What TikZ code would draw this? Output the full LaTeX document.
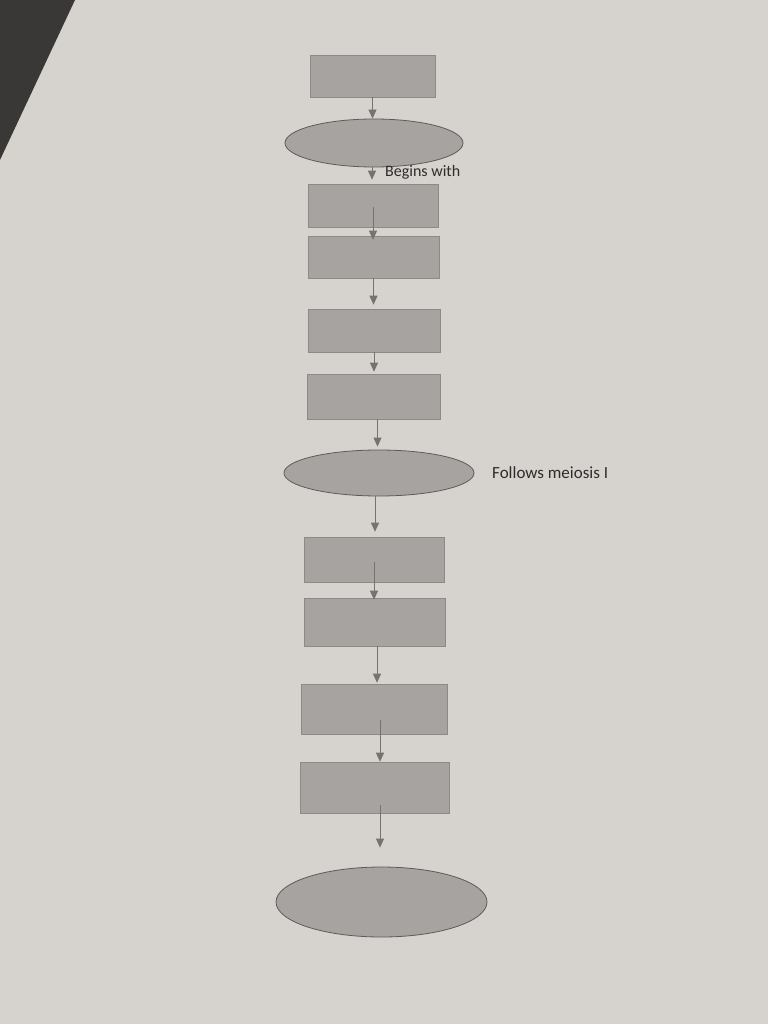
\documentclass[tikz,border=0pt]{standalone}
\usepackage{fontspec}
\setmainfont{Carlito}
\usetikzlibrary{arrows.meta,shapes.geometric}
\definecolor{paper}{HTML}{D6D3CF}
\definecolor{boxfill}{HTML}{A6A3A0}
\definecolor{boxline}{HTML}{8C8986}
\definecolor{ellline}{HTML}{5E5A57}
\definecolor{arrowc}{HTML}{76736F}
\definecolor{txt}{HTML}{2E2C2B}
\definecolor{shadow}{HTML}{3A3836}
\tikzset{
  stepbox/.style={rectangle, fill=boxfill, draw=boxline, line width=0.6pt, inner sep=0pt},
  stageoval/.style={ellipse, fill=boxfill, draw=ellline, line width=0.8pt, inner sep=0pt},
  flow/.style={draw=arrowc, line width=0.8pt, -{Triangle[width=8pt,length=9pt]}},
  lbl/.style={text=txt, inner sep=0pt, anchor=west}
}
\begin{document}
\begin{tikzpicture}[x=1pt,y=-1pt]
\useasboundingbox (0,0) rectangle (768,1024);
\fill[paper] (0,0) rectangle (768,1024);
\fill[shadow] (0,0) -- (75,0) -- (0,160) -- cycle;

\node[stepbox, minimum width=125pt, minimum height=42pt] (r1) at (372.5,76) {};
\node[stageoval, minimum width=178pt, minimum height=48pt] (e1) at (374,143) {};
\node[stepbox, minimum width=130pt, minimum height=43pt] (r3) at (373,205.5) {};
\node[stepbox, minimum width=131pt, minimum height=42pt] (r4) at (373.5,257) {};
\node[stepbox, minimum width=132pt, minimum height=43pt] (r5) at (374,330.5) {};
\node[stepbox, minimum width=133pt, minimum height=45pt] (r6) at (373.5,396.5) {};
\node[stageoval, minimum width=190pt, minimum height=46pt] (e2) at (379,473) {};
\node[stepbox, minimum width=140pt, minimum height=45pt] (r8) at (374,559.5) {};
\node[stepbox, minimum width=141pt, minimum height=48pt] (r9) at (374.5,622) {};
\node[stepbox, minimum width=146pt, minimum height=50pt] (r10) at (374,709) {};
\node[stepbox, minimum width=149pt, minimum height=51pt] (r11) at (374.5,787.5) {};
\node[stageoval, minimum width=211pt, minimum height=70pt] (e3) at (381.5,902) {};

\node[lbl, font=\fontsize{16}{18}\selectfont] (begins) at (385,172) {Begins with};
\node[lbl, font=\fontsize{17}{19}\selectfont] (follows) at (492,473) {Follows meiosis I};

\draw[flow] (r1.south) -- (r1.south |- e1.north);
\draw[flow, shorten >=4pt] ([xshift=-2pt]e1.south) -- ([xshift=-2pt]e1.south |- r3.north);
\draw[flow, shorten <=-20pt, shorten >=-4pt] (r3.south) -- (r3.south |- r4.north);
\draw[flow, shorten >=4pt] (r4.south) -- (r4.south |- r5.north);
\draw[flow, shorten >=2pt] (r5.south) -- (r5.south |- r6.north);
\draw[flow, shorten >=3pt] ([xshift=4pt]r6.south) -- ([xshift=4pt]r6.south |- e2.north);
\draw[flow, shorten >=5pt] ([xshift=-4pt]e2.south) -- ([xshift=-4pt]e2.south |- r8.north);
\draw[flow, shorten <=-20pt, shorten >=-2pt] (r8.south) -- (r8.south |- r9.north);
\draw[flow, shorten >=1pt] ([xshift=2.5pt]r9.south) -- ([xshift=2.5pt]r9.south |- r10.north);
\draw[flow, shorten <=-14pt] ([xshift=6pt]r10.south) -- ([xshift=6pt]r10.south |- r11.north);
\draw[flow, shorten <=-8pt, shorten >=19pt] ([xshift=5.5pt]r11.south) -- ([xshift=5.5pt]r11.south |- e3.north);
\end{tikzpicture}
\end{document}
